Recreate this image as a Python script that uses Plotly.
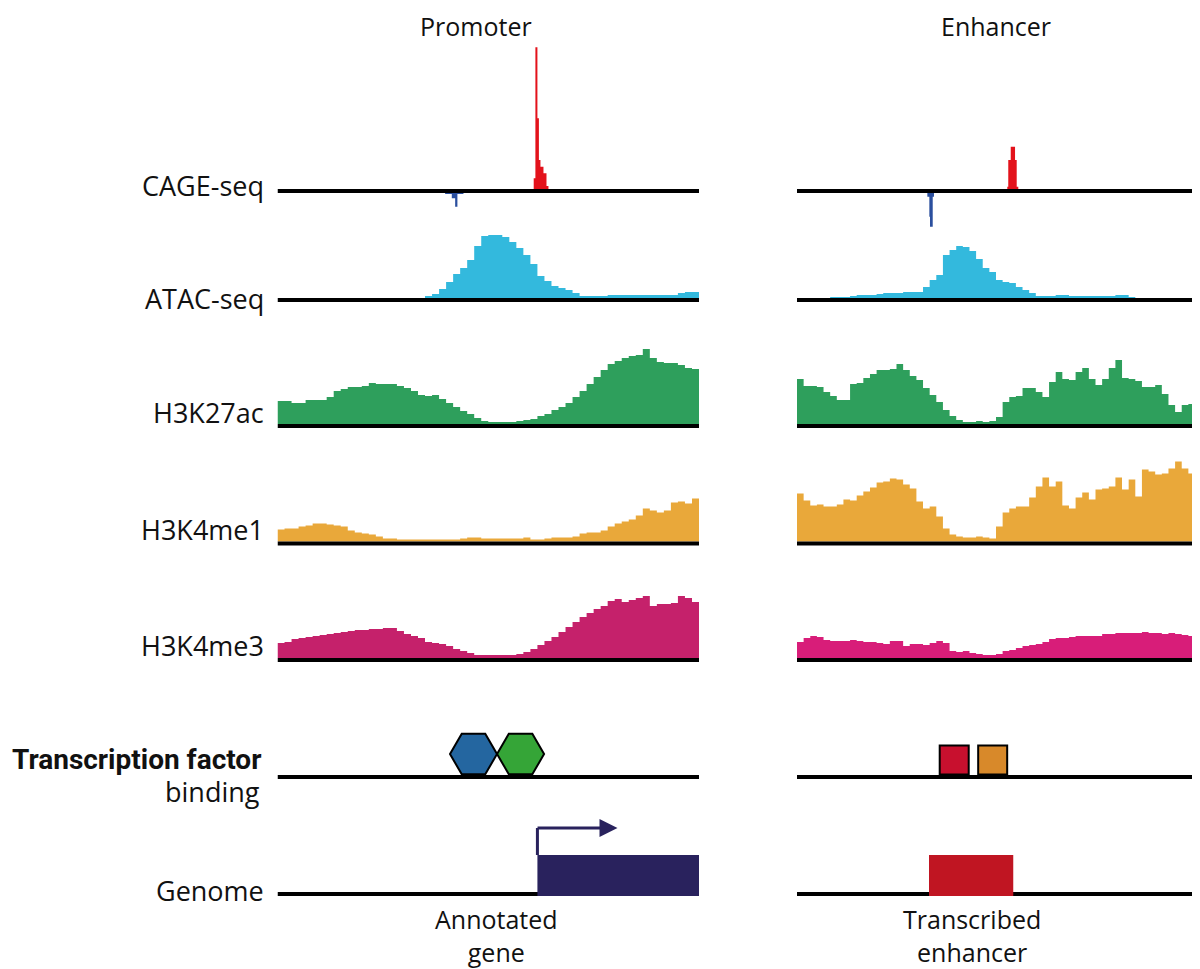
import plotly.graph_objects as go

W, H = 1200, 969
OX, OY = 8, 8   # page body margin offset of the rendered plot
N = 60  # bins per window

# ---------------- data (signal heights per genomic bin) ----------------
cage_prom_pos_edges = [36.47, 36.71, 37.0, 37.21, 37.43, 37.86, 38.29, 38.57]
cage_prom_pos_vals = [10.7, 141.7, 70.7, 29, 22.3, 15.7, 3]
cage_prom_neg_edges = [23.86, 24.81, 25.29, 25.61, 26.47]
cage_prom_neg_vals = [-5, -9.3, -17.7, -5]
cage_enh_pos_edges = [31.70, 31.85, 32.22, 32.87, 33.12, 33.36]
cage_enh_pos_vals = [2.3, 29, 42.3, 29, 2.3]
cage_enh_neg_edges = [19.65, 19.95, 20.05, 20.46, 20.65]
cage_enh_neg_vals = [-7.7, -27.7, -37.7, -7.7]

atac_prom = [0]*21 + [2, 4, 9, 16, 24, 30, 38, 52, 62, 63, 63, 61, 56, 50, 43, 34, 22, 17, 12,
                      10, 8, 5, 2, 2, 2, 2, 3, 3, 3, 3, 3, 3, 3, 3, 3, 3, 5, 6, 6]
atac_enh = [0, 0, 0, 0, 0, 1, 1, 1, 2, 3, 3, 3, 4, 5, 5, 5, 6, 6, 6, 11, 18, 23, 43, 48, 52, 51,
            47, 39, 30, 26, 18, 16, 15, 11, 8, 5, 2, 2, 2, 3, 3, 2, 2, 2, 2, 2, 2, 2, 3, 3, 1,
            0, 0, 0, 0, 0, 0, 0, 0, 0]

k27ac_prom = [23, 23, 21, 21, 24, 24, 24, 27, 33, 35, 37, 37, 38, 41, 40, 40, 40, 38, 36, 33,
              29, 28, 29, 25, 21, 17, 13, 10, 6, 3, 2, 2, 2, 2, 3, 4, 5, 8, 10, 14,
              17, 21, 27, 33, 40, 47, 54, 60, 63, 66, 68, 69, 75, 66, 62, 61, 61, 59, 56, 55]
k27ac_enh = [45, 38, 38, 37, 32, 28, 24, 24, 40, 41, 46, 50, 54, 54, 55, 60, 54, 48, 44, 36,
             29, 22, 14, 8, 4, 2, 2, 3, 2, 3, 7, 22, 27, 28, 36, 36, 32, 27, 42, 52,
             45, 44, 52, 56, 45, 39, 45, 56, 64, 46, 45, 43, 37, 37, 39, 30, 19, 12, 19, 20]

k4me1_prom = [12, 13, 13, 15, 16, 18, 18, 17, 16, 15, 11, 9, 8, 7, 5, 3, 3, 2, 2, 2,
              2, 2, 2, 2, 2, 2, 3, 4, 4, 3, 3, 3, 3, 3, 3, 4, 2, 2, 3, 4,
              4, 4, 5, 8, 9, 9, 11, 15, 18, 20, 22, 26, 33, 31, 29, 31, 39, 40, 38, 43]
k4me1_enh = [48, 41, 36, 37, 35, 35, 37, 42, 41, 46, 50, 54, 59, 60, 63, 62, 57, 53, 40, 33,
             35, 25, 13, 7, 5, 4, 4, 5, 4, 3, 15, 29, 33, 35, 35, 44, 55, 64, 55, 60,
             36, 33, 44, 49, 42, 52, 53, 55, 64, 52, 62, 45, 72, 70, 67, 68, 73, 80, 73, 68]

k4me3_prom = [15, 16, 19, 20, 21, 22, 23, 24, 25, 26, 27, 28, 28, 29, 29, 30, 30, 27, 24, 22,
              20, 16, 15, 14, 12, 9, 7, 5, 3, 3, 3, 3, 3, 3, 4, 6, 9, 13, 17, 21,
              26, 31, 36, 41, 45, 49, 52, 57, 59, 56, 58, 60, 62, 52, 54, 54, 55, 62, 60, 56]
k4me3_enh = [16, 20, 22, 21, 18, 17, 17, 17, 18, 17, 16, 16, 15, 14, 17, 17, 12, 14, 14, 13,
             15, 17, 15, 7, 6, 7, 5, 4, 3, 3, 4, 7, 8, 10, 12, 13, 14, 16, 19, 20,
             20, 21, 22, 22, 22, 22, 24, 24, 25, 25, 25, 25, 26, 25, 25, 24, 25, 24, 23, 22]

tf_prom_pos = [27.9, 34.6]          # hexagon centres (bins)
tf_prom_colors = ["#2466a0", "#35a537"]
tf_enh_pos = [23.7, 29.5]           # square centres (bins)
tf_enh_colors = ["#c8102e", "#d8892a"]
tf_height = [21, 15]                # marker centre heights (prom, enh)

gene_prom = [37.0, 60.0]            # annotated gene start/end (bins)
gene_enh = [19.9, 32.6]             # transcribed enhancer start/end (bins)
gene_height = 37
tss_arrow = [64, 48.4]              # arrow height, arrow tip (bins)

row_labels = ["CAGE-seq", "ATAC-seq", "H3K27ac", "H3K4me1", "H3K4me3"]
col_titles = ["Promoter", "Enhancer"]
bottom_labels = ["Annotated<br>gene", "Transcribed<br>enhancer"]

# ---------------- layout helpers ----------------
FONT = "Open Sans"
cols_px = [(277.5, 699.0), (797.0, 1195.0)]
# row: (baseline top px, units above, units below)
rows_px = [(189, 150, 45), (298, 75, 6), (424, 90, 6), (541.5, 90, 6),
           (658, 80, 6), (775, 55, 6), (892, 75, 6)]


def fx(px):
    return (px - OX) / W


def fy(py):
    return 1 - (py - OY) / H


fig = go.Figure()
layout = {}


def ax_ids(r, c):
    k = r * 2 + c + 1
    return ("x" if k == 1 else f"x{k}"), ("y" if k == 1 else f"y{k}"), k


for r, (b, up, dn) in enumerate(rows_px):
    for c, (x0, x1) in enumerate(cols_px):
        xid, yid, k = ax_ids(r, c)
        xname = "xaxis" if k == 1 else f"xaxis{k}"
        yname = "yaxis" if k == 1 else f"yaxis{k}"
        layout[xname] = dict(domain=[fx(x0), fx(x1)], range=[0, N], visible=False,
                             fixedrange=True, anchor=yid)
        layout[yname] = dict(domain=[fy(b + dn), fy(b - up)], range=[-dn, up],
                             visible=False, fixedrange=True, anchor=xid)

fig.update_layout(**layout)


def step_fill(edges, vals, color, r, c):
    xid, yid, _ = ax_ids(r, c)
    fig.add_trace(go.Scatter(x=edges, y=list(vals) + [vals[-1]], mode="lines",
                             line=dict(width=0, shape="hv", color=color),
                             fill="tozeroy", fillcolor=color, hoverinfo="skip",
                             showlegend=False, xaxis=xid, yaxis=yid))


def baseline(r, c):
    xid, yid, _ = ax_ids(r, c)
    fig.add_trace(go.Scatter(x=[0, N], y=[-2, -2], mode="lines",
                             line=dict(width=4, color="black"), hoverinfo="skip",
                             showlegend=False, xaxis=xid, yaxis=yid))


bins = list(range(N + 1))

# CAGE
step_fill(cage_prom_pos_edges, cage_prom_pos_vals, "#e3121b", 0, 0)
step_fill(cage_prom_neg_edges, cage_prom_neg_vals, "#2b4f9e", 0, 0)
step_fill(cage_enh_pos_edges, cage_enh_pos_vals, "#e3121b", 0, 1)
step_fill(cage_enh_neg_edges, cage_enh_neg_vals, "#2b4f9e", 0, 1)

tracks = [
    (1, atac_prom, atac_enh, "#33b9dd", "#33b9dd"),
    (2, k27ac_prom, k27ac_enh, "#2e9f5c", "#2e9f5c"),
    (3, k4me1_prom, k4me1_enh, "#e9a83a", "#e9a83a"),
    (4, k4me3_prom, k4me3_enh, "#c5216b", "#d81d79"),
]
for r, vp, ve, cp, ce in tracks:
    step_fill(bins, vp, cp, r, 0)
    step_fill(bins, ve, ce, r, 1)

for r in range(7):
    for c in range(2):
        baseline(r, c)

# TF binding markers
xid, yid, _ = ax_ids(5, 0)
fig.add_trace(go.Scatter(x=tf_prom_pos, y=[tf_height[0]] * len(tf_prom_pos), mode="markers",
                         marker=dict(symbol="hexagon2", size=47, color=tf_prom_colors,
                                     line=dict(color="black", width=2)),
                         hoverinfo="skip", showlegend=False, cliponaxis=False,
                         xaxis=xid, yaxis=yid))
xid, yid, _ = ax_ids(5, 1)
fig.add_trace(go.Scatter(x=tf_enh_pos, y=[tf_height[1]] * len(tf_enh_pos), mode="markers",
                         marker=dict(symbol="square", size=29, color=tf_enh_colors,
                                     line=dict(color="black", width=2)),
                         hoverinfo="skip", showlegend=False, cliponaxis=False,
                         xaxis=xid, yaxis=yid))

# Genome boxes
for c, (g, color) in enumerate([(gene_prom, "#29225d"), (gene_enh, "#c01522")]):
    xid, yid, _ = ax_ids(6, c)
    fig.add_trace(go.Scatter(x=[g[0], g[1], g[1], g[0], g[0]],
                             y=[-4, -4, gene_height, gene_height, -4], mode="lines",
                             line=dict(width=0, color=color), fill="toself", fillcolor=color,
                             hoverinfo="skip", showlegend=False, xaxis=xid, yaxis=yid))

# TSS arrow
xid, yid, _ = ax_ids(6, 0)
fig.add_trace(go.Scatter(x=[gene_prom[0], gene_prom[0]], y=[gene_height, tss_arrow[0]],
                         mode="lines", line=dict(width=3, color="#29225d"), hoverinfo="skip",
                         showlegend=False, xaxis=xid, yaxis=yid))
fig.add_annotation(x=tss_arrow[1], y=tss_arrow[0], ax=gene_prom[0] - 0.2, ay=tss_arrow[0],
                   xref=xid, yref=yid, axref=xid, ayref=yid, text="", showarrow=True,
                   arrowhead=2, arrowsize=1.2, arrowwidth=3, arrowcolor="#29225d")

# ---------------- text ----------------
def txt(s, px, py, size=27, anchor="right", bold=False, family=FONT):
    fig.add_annotation(text=f"<b>{s}</b>" if bold else s, x=fx(px), y=fy(py),
                       xref="paper", yref="paper", showarrow=False, xanchor=anchor,
                       yanchor="middle", align="center", borderpad=0,
                       font=dict(family=family, size=size, color="#111111"))


txt(col_titles[0], 476, 26, size=25, anchor="center")
txt(col_titles[1], 996, 26, size=25, anchor="center")
label_y = [185, 298, 413, 529, 645]
for s, y in zip(row_labels, label_y):
    txt(s, 265, y)
txt("Transcription factor", 262, 759, size=28, bold=True, family="Roboto")
txt("binding", 261, 791)
txt("Genome", 265, 890)
txt(bottom_labels[0], 497, 935, size=25, anchor="center")
txt(bottom_labels[1], 972, 935, size=25, anchor="center")

fig.update_layout(width=W, height=H, margin=dict(l=0, r=0, t=0, b=0),
                  paper_bgcolor="white", plot_bgcolor="rgba(0,0,0,0)",
                  showlegend=False)

fig.write_html("out.html")
